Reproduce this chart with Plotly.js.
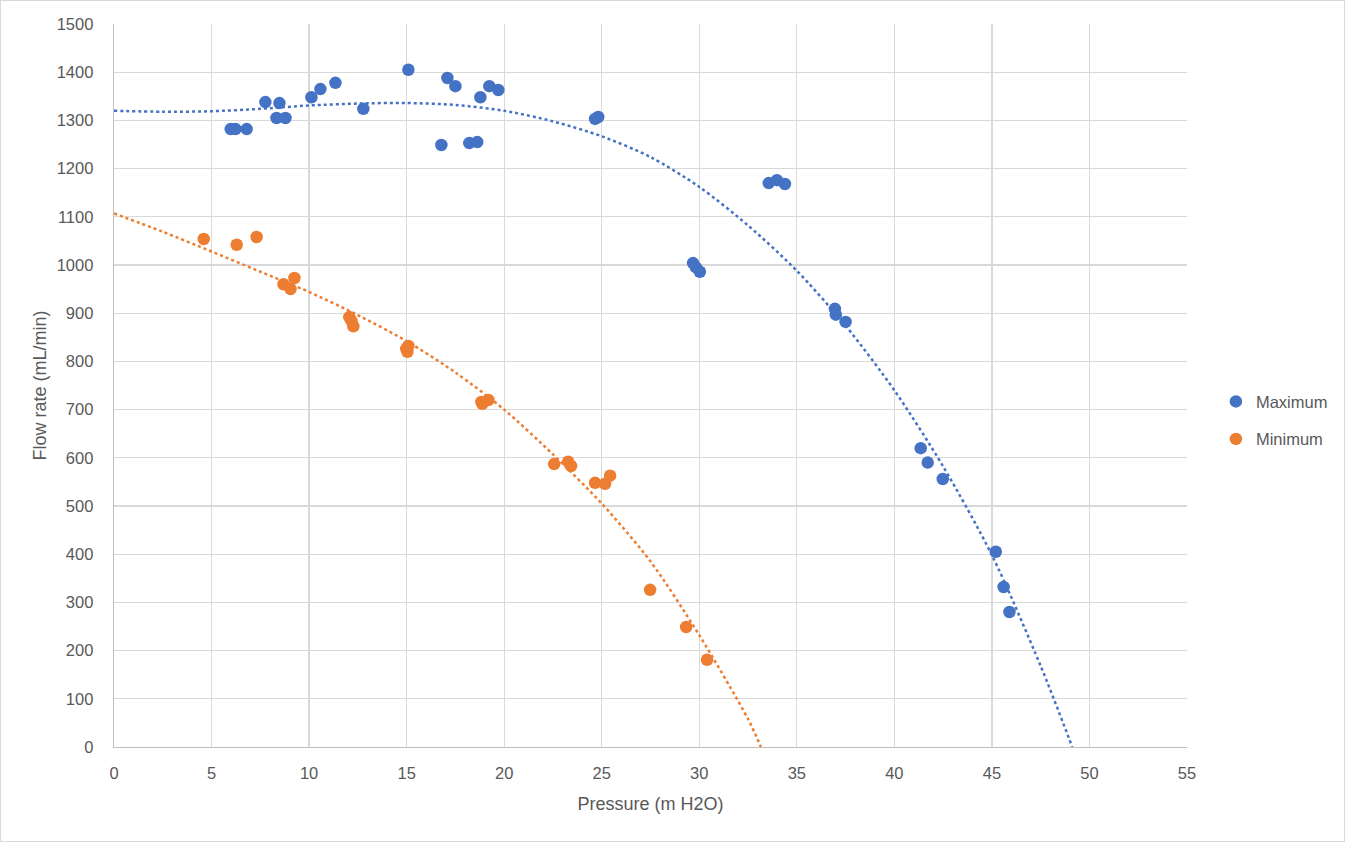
<!DOCTYPE html>
<html>
<head>
<meta charset="utf-8">
<script src="https://cdn.plot.ly/plotly-3.0.1.min.js"></script>
<style>
html,body{margin:0;padding:0;background:#fff;}
#chart{position:absolute;left:0;top:0;width:1343px;height:840px;border:1px solid #D9D9D9;}
</style>
</head>
<body>
<div id="chart"></div>
<script>
// Maximum series (Pressure m H2O, Flow rate mL/min)
var maxPressure = [5.98, 6.23, 6.8, 7.76, 8.48, 8.33, 8.79, 10.12, 10.58, 11.35, 12.78, 15.09, 16.78, 17.09, 17.5, 18.21, 18.62, 18.78, 19.24, 19.7, 24.66, 24.82, 29.68, 29.83, 30.03, 33.56, 33.98, 34.39, 36.95, 37.0, 37.5, 41.35, 41.71, 42.48, 45.2, 45.6, 45.9];
var maxFlow = [1282, 1282, 1282, 1338, 1336, 1305, 1305, 1348, 1365, 1378, 1324, 1405, 1249, 1388, 1371, 1253, 1255, 1348, 1371, 1363, 1303, 1307, 1004, 995, 986, 1170, 1176, 1168, 909, 897, 882, 620, 590, 556, 405, 332, 280];
// Minimum series
var minPressure = [4.6, 6.29, 7.31, 8.69, 9.05, 9.25, 12.06, 12.17, 12.27, 14.98, 15.04, 15.09, 18.83, 18.88, 19.19, 22.56, 23.28, 23.43, 24.66, 25.17, 25.43, 27.48, 29.33, 30.4];
var minFlow = [1054, 1042, 1058, 960, 950, 973, 892, 884, 873, 826, 820, 832, 716, 712, 720, 587, 592, 583, 548, 546, 563, 326, 249, 181];

// Trendlines
var maxTrendPressure = [0, 2.5, 5, 7.5, 10, 12.5, 15, 17.5, 20, 22.5, 25, 27.5, 30, 32.5, 35, 37.5, 40, 42.5, 45, 47.5, 49.12];
var maxTrendFlow = [1320, 1318, 1319, 1324, 1331, 1335, 1336, 1332, 1320, 1298, 1267, 1224, 1162, 1082, 988, 874, 740, 582, 398, 168, 0];
var minTrendPressure = [0, 2.5, 5, 7.5, 10, 12.5, 15, 17.5, 20, 22.5, 25, 27.5, 30, 32.5, 33.16];
var minTrendFlow = [1107, 1069, 1028, 986, 944, 896, 842, 777, 700, 607, 505, 385, 232, 58, 0];

var seriesNames = ["Maximum", "Minimum"];
var seriesColors = ["#4472C4", "#ED7D31"];

var trendX = [maxTrendPressure, minTrendPressure], trendY = [maxTrendFlow, minTrendFlow];
var xs = [maxPressure, minPressure], ys = [maxFlow, minFlow];
var traces = [];
for (var s = 0; s < 2; s++) {
  traces.push({x: trendX[s], y: trendY[s], mode: 'lines', type: 'scatter', showlegend: false, hoverinfo: 'skip',
    line: {color: seriesColors[s], width: 2.5, dash: 'dot', shape: 'spline', smoothing: 0.8}});
}
for (var s2 = 0; s2 < 2; s2++) {
  traces.push({x: xs[s2], y: ys[s2], mode: 'markers', type: 'scatter', name: seriesNames[s2],
    legendgroup: 'g' + s2,
    marker: {color: seriesColors[s2], size: 12.5}});
}

var fam = 'Liberation Sans, Arial, sans-serif';
var tickFont = {family: fam, size: 16.5, color: '#595959'};
var titleFont = {family: fam, size: 18, color: '#595959'};
var layout = {
  width: 1343, height: 840,
  margin: {l: 113, r: 156, t: 23, b: 94},
  paper_bgcolor: '#fff', plot_bgcolor: '#fff',
  font: tickFont,
  showlegend: true,
  legend: {x: 1.026, xanchor: 'left', y: 0.452, yanchor: 'middle', font: tickFont,
    tracegroupgap: 13, traceorder: 'grouped', bgcolor: 'rgba(0,0,0,0)'},
  xaxis: {range: [0, 55], dtick: 5, tick0: 0, showgrid: true, gridcolor: '#D9D9D9', gridwidth: 1.2,
    zeroline: false, showline: true, linecolor: '#BFBFBF', linewidth: 1.3, ticks: '',
    tickfont: tickFont, ticklabelstandoff: 11,
    title: {text: 'Pressure (m H2O)', font: titleFont, standoff: 16}},
  yaxis: {range: [0, 1500], dtick: 100, tick0: 0, showgrid: true, gridcolor: '#D9D9D9', gridwidth: 1.2,
    zeroline: false, showline: true, linecolor: '#BFBFBF', linewidth: 1.3, ticks: '', tickfont: tickFont, ticklabelstandoff: 16,
    title: {text: 'Flow rate (mL/min)', font: titleFont, standoff: 5}}
};
Plotly.newPlot('chart', traces, layout, {displayModeBar: false, staticPlot: true});
</script>
</body>
</html>
